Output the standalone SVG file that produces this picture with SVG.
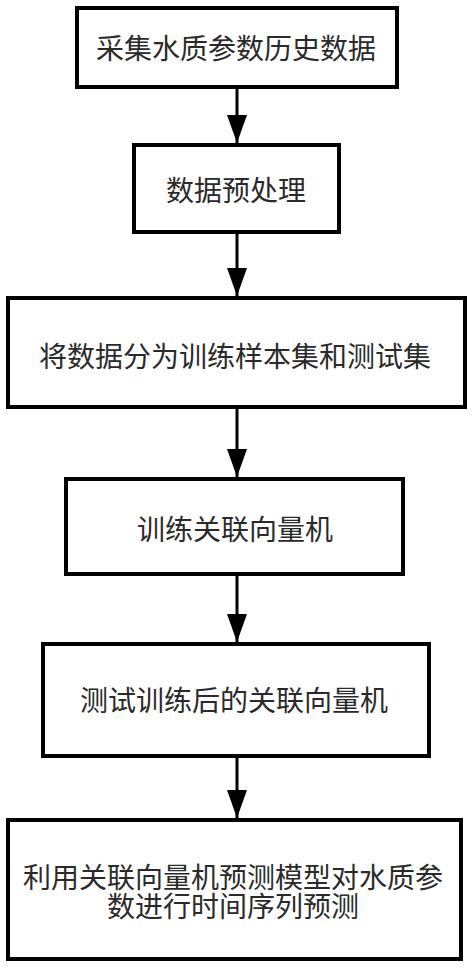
<svg xmlns="http://www.w3.org/2000/svg" width="474" height="969" viewBox="0 0 474 969">
<defs>
<style>
.box{fill:#fff;stroke:#000;stroke-width:4}
.t{font-family:"Noto Sans CJK SC","Noto Sans",sans-serif;font-size:28px;fill:#2a2a2a;text-anchor:middle;dominant-baseline:central}
.c{stroke:#000;stroke-width:3;fill:none;marker-end:url(#ah)}
</style>
<marker id="ah" markerUnits="userSpaceOnUse" markerWidth="28" markerHeight="20" refX="28" refY="10" orient="auto" viewBox="0 0 28 20">
<path d="M0,0 L28,10 L0,20 Z" fill="#000"/>
</marker>
</defs>
<rect width="474" height="969" fill="#fff"/>
<g id="connectors">
<line class="c" x1="237" y1="87" x2="237" y2="143"/>
<line class="c" x1="237" y1="232" x2="237" y2="296"/>
<line class="c" x1="237" y1="407" x2="237" y2="477"/>
<line class="c" x1="237" y1="574" x2="237" y2="642"/>
<line class="c" x1="237" y1="756" x2="237" y2="818"/>
</g>
<g id="n1"><rect class="box" x="77" y="8" width="320" height="79"/><text class="t" x="236" y="47">采集水质参数历史数据</text></g>
<g id="n2"><rect class="box" x="134" y="145" width="205" height="87"/><text class="t" x="236" y="189">数据预处理</text></g>
<g id="n3"><rect class="box" x="8" y="298" width="457" height="109"/><text class="t" x="235" y="355">将数据分为训练样本集和测试集</text></g>
<g id="n4"><rect class="box" x="66" y="479" width="337" height="95"/><text class="t" x="235" y="528">训练关联向量机</text></g>
<g id="n5"><rect class="box" x="43" y="644" width="386" height="112"/><text class="t" x="234" y="699">测试训练后的关联向量机</text></g>
<g id="n6"><rect class="box" x="8" y="820" width="453" height="139"/><text class="t" x="233" y="876"><tspan x="233" y="876">利用关联向量机预测模型对水质参</tspan><tspan x="233" y="905">数进行时间序列预测</tspan></text></g>
</svg>
